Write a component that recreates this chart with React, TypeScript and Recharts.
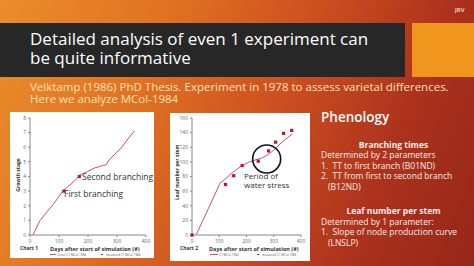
import React from "react";
import { ComposedChart, Line, Scatter, XAxis, YAxis, ReferenceDot } from "recharts";

// Chart 1: growth stage
const stageSimDays = [10, 35, 55, 83, 112, 130, 150, 170, 198, 221, 250, 262, 273, 296, 314, 331, 360];
const stageSimVals = [0, 1.0, 1.5, 2.17, 2.97, 3.3, 3.62, 4.05, 4.34, 4.57, 4.75, 4.8, 5.14, 5.6, 5.94, 6.4, 7.12];
const stageObsDays = [117, 170];
const stageObsVals = [3, 4];
const stageObsNames = ["First branching", "Second branching"];
const stageTicks = [0, 1, 2, 3, 4, 5, 6, 7, 8];

// Chart 2: leaf number per stem
const leafSimDays = [15, 60, 103, 120, 150, 180, 210, 235, 255, 275, 300, 330, 368];
const leafSimVals = [0, 36, 71, 76, 86, 94, 100, 103, 105, 109, 116, 127, 138];
const leafObsDays = [0, 123, 153, 184, 243, 281, 307, 336, 366];
const leafObsVals = [0, 69, 81, 95, 101, 115, 127, 139, 143];
const leafTicks = [0, 20, 40, 60, 80, 100, 120, 140, 160];
const dayTicks = [0, 100, 200, 300, 400];

const stressDay = 274;
const stressVal = 104;

const stageSim = stageSimDays.map((d, i) => ({ day: d, v: stageSimVals[i] }));
const stageObs = stageObsDays.map((d, i) => ({ day: d, v: stageObsVals[i], name: stageObsNames[i] }));
const leafSim = leafSimDays.map((d, i) => ({ day: d, v: leafSimVals[i] }));
const leafObs = leafObsDays.map((d, i) => ({ day: d, v: leafObsVals[i] }));

const FONT = "'Open Sans', 'Noto Sans', sans-serif";
const LINE = "#c9565a";
const DOT = "#c0102a";
const tickStyle = { fontSize: 5, fill: "#666", fontFamily: FONT };

const abs = (s: React.CSSProperties): React.CSSProperties => ({ position: "absolute", ...s });

const SquareDot = (props: any) => {
  const { cx, cy } = props;
  if (cx == null || cy == null) return null;
  return <rect x={cx - 1.6} y={cy - 1.6} width={3.2} height={3.2} fill={DOT} />;
};

export default function App() {
  return (
    <div
      style={{
        position: "fixed",
        left: 0,
        top: 0,
        width: 474,
        height: 266,
        overflow: "hidden",
        fontFamily: FONT,
        background:
          "linear-gradient(112deg, #ea8d2c 0%, #e07222 30%, #cc5020 55%, #ac321d 78%, #952619 100%)",
      }}
    >
      <div style={abs({ left: 455, top: 6, fontSize: 6, color: "#f3e6dc", fontWeight: 600 })}>JRV</div>
      <div style={abs({ left: 0, top: 23, width: 405, height: 54, background: "#272727" })} />
      <div style={abs({ left: 412, top: 23, width: 62, height: 54, background: "#f0961f" })} />
      <div style={abs({ left: 30, top: 30, fontSize: 17, lineHeight: "17px", color: "#ffffff", whiteSpace: "nowrap" })}>
        Detailed analysis of even 1 experiment can
      </div>
      <div style={abs({ left: 30, top: 49, fontSize: 17, lineHeight: "17px", color: "#ffffff", whiteSpace: "nowrap" })}>
        be quite informative
      </div>
      <div style={abs({ left: 30, top: 81, fontSize: 11.5, lineHeight: "11px", color: "#fbe2b6", whiteSpace: "nowrap" })}>
        Velktamp (1986) PhD Thesis. Experiment in 1978 to assess varietal differences.
      </div>
      <div style={abs({ left: 30, top: 93, fontSize: 11.5, lineHeight: "11px", color: "#fbe2b6", whiteSpace: "nowrap" })}>
        Here we analyze MCol-1984
      </div>

      {/* Chart 1 */}
      <div style={abs({ left: 10, top: 112, width: 144, height: 146, background: "#fff" })}>
        <ComposedChart width={144} height={146} margin={{ top: 6, right: 8, left: 0, bottom: 0 }}>
          <XAxis
            type="number"
            dataKey="day"
            domain={[0, 400]}
            ticks={dayTicks}
            tick={tickStyle}
            tickSize={2}
            height={23}
            stroke="#888"
          />
          <XAxis xAxisId="top" orientation="top" type="number" dataKey="day" domain={[0, 400]} tick={false} tickLine={false} height={0} stroke="#aaa" />
          <YAxis
            type="number"
            dataKey="v"
            domain={[0, 8]}
            ticks={stageTicks}
            tick={tickStyle}
            tickSize={2}
            width={20}
            stroke="#888"
          />
          <YAxis yAxisId="right" orientation="right" type="number" domain={[0, 8]} tick={false} tickLine={false} width={0} stroke="#aaa" />
          <Line data={stageSim} dataKey="v" stroke={LINE} strokeWidth={1} dot={false} isAnimationActive={false} />
          <Scatter data={stageObs} dataKey="v" fill={DOT} shape={SquareDot} isAnimationActive={false} />
        </ComposedChart>
      </div>
      <div style={abs({ left: 82, top: 172, fontSize: 8.5, lineHeight: "10px", color: "#333", whiteSpace: "nowrap" })}>Second branching</div>
      <div style={abs({ left: 64, top: 189, fontSize: 8.5, lineHeight: "10px", color: "#333", whiteSpace: "nowrap" })}>First branching</div>
      <div
        style={abs({
          left: -2,
          top: 172,
          width: 40,
          textAlign: "center",
          fontSize: 5,
          fontWeight: 700,
          color: "#333",
          transform: "rotate(-90deg)",
          whiteSpace: "nowrap",
        })}
      >
        Growth stage
      </div>
      <div style={abs({ left: 20, top: 245, fontSize: 5, fontWeight: 700, color: "#333" })}>Chart 1</div>
      <div style={abs({ left: 50, top: 244.5, width: 80, textAlign: "center", fontSize: 5.5, fontWeight: 700, color: "#333", whiteSpace: "nowrap" })}>
        Days after start of simulation (#)
      </div>
      <div style={abs({ left: 50, top: 254, width: 6, height: 0.7, background: LINE })} />
      <div style={abs({ left: 57, top: 252.5, fontSize: 3, color: "#555", whiteSpace: "nowrap" })}>Linear C1 MCol-1984</div>
      <div style={abs({ left: 101, top: 253.5, width: 1.5, height: 1.5, background: DOT })} />
      <div style={abs({ left: 106, top: 252.5, fontSize: 3, color: "#555", whiteSpace: "nowrap" })}>measured C1 MCol-1984</div>

      {/* Chart 2 */}
      <div style={abs({ left: 170, top: 113, width: 140, height: 148, background: "#fff" })}>
        <ComposedChart width={140} height={148} margin={{ top: 5, right: 9, left: 0, bottom: 0 }}>
          <XAxis
            type="number"
            dataKey="day"
            domain={[0, 400]}
            ticks={dayTicks}
            tick={tickStyle}
            tickSize={2}
            height={26}
            stroke="#888"
          />
          <XAxis xAxisId="top" orientation="top" type="number" dataKey="day" domain={[0, 400]} tick={false} tickLine={false} height={0} stroke="#aaa" />
          <YAxis
            type="number"
            dataKey="v"
            domain={[0, 160]}
            ticks={leafTicks}
            tick={tickStyle}
            tickSize={2}
            width={22}
            stroke="#888"
          />
          <YAxis yAxisId="right" orientation="right" type="number" domain={[0, 160]} tick={false} tickLine={false} width={0} stroke="#aaa" />
          <Line data={leafSim} dataKey="v" stroke={LINE} strokeWidth={1} dot={false} isAnimationActive={false} />
          <Scatter data={leafObs} dataKey="v" fill={DOT} shape={SquareDot} isAnimationActive={false} />
          <ReferenceDot x={stressDay} y={stressVal} r={14} fill="none" stroke="#111" strokeWidth={1.6} />
        </ComposedChart>
      </div>
      <div style={abs({ left: 244, top: 172, fontSize: 8, lineHeight: "8px", color: "#333", whiteSpace: "nowrap" })}>Period of</div>
      <div style={abs({ left: 244, top: 181, fontSize: 8, lineHeight: "8px", color: "#333", whiteSpace: "nowrap" })}>water stress</div>
      <div
        style={abs({
          left: 152,
          top: 172,
          width: 50,
          textAlign: "center",
          fontSize: 5,
          fontWeight: 700,
          color: "#333",
          transform: "rotate(-90deg)",
          whiteSpace: "nowrap",
        })}
      >
        Leaf number per stem
      </div>
      <div style={abs({ left: 180, top: 245, fontSize: 5, fontWeight: 700, color: "#333" })}>Chart 2</div>
      <div style={abs({ left: 209, top: 244.5, width: 80, textAlign: "center", fontSize: 5.5, fontWeight: 700, color: "#333", whiteSpace: "nowrap" })}>
        Days after start of simulation (#)
      </div>
      <div style={abs({ left: 210, top: 254, width: 8, height: 0.7, background: LINE })} />
      <div style={abs({ left: 219, top: 252.5, fontSize: 3, color: "#555", whiteSpace: "nowrap" })}>C1 MCol-1984</div>
      <div style={abs({ left: 257, top: 253.5, width: 1.5, height: 1.5, background: DOT })} />
      <div style={abs({ left: 262, top: 252.5, fontSize: 3, color: "#555", whiteSpace: "nowrap" })}>measured C1 MCol-1984</div>

      {/* Right text */}
      <div style={abs({ left: 321, top: 108, fontSize: 13.5, fontWeight: 600, color: "#fff", whiteSpace: "nowrap" })}>Phenology</div>
      <div style={abs({ left: 321, top: 140, width: 145, fontSize: 8.5, lineHeight: "10.4px", color: "#f7ece6", whiteSpace: "nowrap" })}>
        <div style={{ textAlign: "center", fontWeight: 700 }}>Branching times</div>
        <div>Determined by 2 parameters</div>
        <div>1.&nbsp; TT to first branch (B01ND)</div>
        <div>2.&nbsp; TT from first to second branch</div>
        <div style={{ paddingLeft: 7 }}>(B12ND)</div>
        <div>&nbsp;</div>
        <div style={{ textAlign: "center", fontWeight: 700, marginTop: 4 }}>Leaf number per stem</div>
        <div>Determined by 1 parameter:</div>
        <div>1.&nbsp; Slope of node production curve</div>
        <div style={{ paddingLeft: 7 }}>(LNSLP)</div>
      </div>
    </div>
  );
}
